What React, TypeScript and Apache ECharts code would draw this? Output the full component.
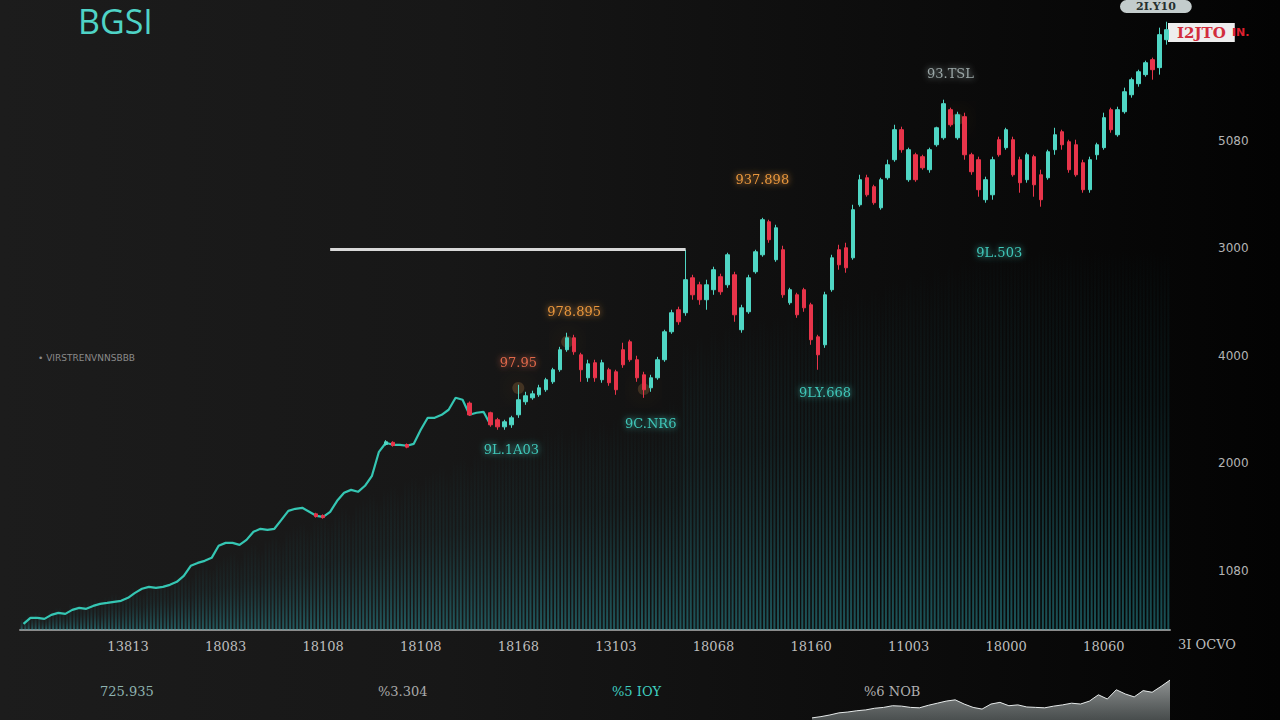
import React, { useEffect, useRef } from "react";
import * as echarts from "echarts";

const N = 165;
const categories = Array.from({ length: N }, (_, i) => `D${i + 1}`);
const xTickLabels = ["13813", "18083", "18108", "18108", "18168", "13103", "18068", "18160", "11003", "18000", "18060"];
const xTickFirst = 15;
const xTickStep = 14;
const yTickValues = [1000, 2000, 3000, 4000, 5000];
const yTickLabels = ["1080", "2000", "4000", "3000", "5080"];

// closing path of the early (dense) part, index 0..67
const trendLine = [
  507, 563, 563, 553, 591, 609, 600, 637, 656, 647,
  674, 693, 702, 712, 721, 749, 795, 833, 851, 842,
  851, 870, 898, 953, 1047, 1074, 1093, 1121, 1233, 1260,
  1260, 1242, 1288, 1363, 1391, 1381, 1391, 1474, 1558, 1577,
  1586, 1549, 1512, 1502, 1549, 1651, 1726, 1753, 1735, 1791,
  1884, 2107, 2191, 2172, 2172, 2163, 2181, 2312, 2423, 2423,
  2451, 2498, 2609, 2591, 2451, 2470, 2479, 2358,
];

// [index, open, close, low, high]
const leftCandles = [
  [42, 1530, 1505, 1495, 1540],
  [43, 1515, 1495, 1485, 1525],
  [52, 2175, 2200, 2165, 2215],
  [53, 2195, 2165, 2155, 2205],
  [55, 2175, 2150, 2140, 2185],
  [64, 2560, 2450, 2440, 2575],
  [67, 2470, 2358, 2340, 2480],
];

const candleStart = 68;
// [open, close, low, high]
const candles = [
  [2405, 2339, 2312, 2423], [2339, 2386, 2312, 2405], [2358, 2423, 2330, 2442], [2451, 2591, 2423, 2730],
  [2572, 2628, 2544, 2665], [2609, 2646, 2591, 2675], [2637, 2702, 2618, 2730], [2684, 2777, 2665, 2795],
  [2758, 2870, 2739, 2888], [2870, 3056, 2851, 3083], [3056, 3167, 3037, 3214], [3167, 3037, 3009, 3195],
  [3009, 2870, 2758, 3028], [2795, 2925, 2758, 2963], [2935, 2795, 2758, 2963], [2777, 2935, 2749, 2963],
  [2870, 2749, 2721, 2888], [2851, 2684, 2637, 2870], [3056, 2916, 2888, 3121], [3130, 2963, 2944, 3149],
  [2963, 2795, 2758, 3000], [2823, 2684, 2609, 2851], [2702, 2795, 2665, 2823], [2795, 2963, 2777, 2990],
  [2963, 3223, 2944, 3242], [3223, 3400, 3204, 3428], [3428, 3316, 3288, 3456], [3400, 3707, 3372, 3986],
  [3725, 3567, 3521, 3753], [3660, 3521, 3474, 3688], [3521, 3660, 3428, 3707], [3614, 3800, 3567, 3828],
  [3735, 3595, 3567, 3763], [3660, 3939, 3632, 3958], [3753, 3381, 3316, 3781], [3242, 3446, 3214, 3474],
  [3409, 3725, 3390, 3753], [3781, 3967, 3763, 3986], [3939, 4265, 3921, 4283], [4246, 4079, 4051, 4265],
  [3893, 4190, 3874, 4218], [3986, 3567, 3539, 4023], [3493, 3614, 3474, 3632], [3567, 3381, 3353, 3586],
  [3614, 3446, 3409, 3632], [3474, 3149, 3102, 3493], [3176, 3009, 2870, 3195], [3102, 3567, 3074, 3595],
  [3614, 3911, 3595, 3939], [3986, 3846, 3800, 4032], [4004, 3818, 3772, 4051], [3911, 4358, 3893, 4404],
  [4404, 4637, 4386, 4683], [4655, 4497, 4479, 4683], [4572, 4423, 4404, 4590], [4376, 4637, 4358, 4655],
  [4655, 4776, 4637, 4823], [4823, 5102, 4804, 5148], [5102, 4916, 4888, 5130], [4637, 4916, 4618, 4935],
  [4869, 4637, 4618, 4888], [4851, 4748, 4730, 4869], [4730, 4916, 4702, 4935], [4962, 5120, 4944, 5130],
  [5027, 5344, 5009, 5381], [5288, 5148, 5130, 5307], [5027, 5241, 5009, 5269], [5223, 4869, 4823, 5260],
  [4869, 4711, 4683, 4888], [4823, 4544, 4479, 4851], [4451, 4637, 4423, 4665], [4497, 4823, 4451, 4851],
  [5009, 4869, 4851, 5037], [4935, 5102, 4916, 5120], [5009, 4683, 4665, 5037], [4823, 4609, 4516, 4851],
  [4637, 4869, 4609, 4888], [4851, 4590, 4479, 4869], [4683, 4451, 4386, 4730], [4655, 4897, 4637, 4916],
  [4916, 5055, 4869, 5120], [5083, 4962, 4916, 5102], [4990, 4730, 4702, 5009], [4962, 4683, 4665, 5009],
  [4795, 4544, 4516, 4823], [4544, 4823, 4516, 4851], [4869, 4962, 4823, 4981], [4935, 5214, 4916, 5260],
  [5288, 5102, 5074, 5307], [5055, 5288, 5037, 5316], [5269, 5455, 5251, 5493], [5427, 5567, 5400, 5586],
  [5530, 5641, 5502, 5660], [5614, 5725, 5595, 5744], [5753, 5660, 5567, 5772], [5679, 5986, 5614, 6051],
  [5939, 6032, 5893, 6106],
];

// background stripe heights, one per category
const stripes = [
  560, 600, 620, 580, 640, 660, 630, 700, 680, 720,
  740, 700, 760, 790, 770, 820, 850, 800, 870, 900,
  920, 880, 960, 1000, 950, 1040, 1080, 1020, 1100, 1140,
  1180, 1120, 1220, 1260, 1200, 1300, 1340, 1280, 1380, 1420,
  1450, 1400, 1480, 1520, 1460, 1560, 1600, 1540, 1640, 1680,
  1720, 1660, 1760, 1800, 1740, 1840, 1880, 1820, 1900, 1940,
  1980, 1920, 2020, 2060, 2000, 2100, 2140, 2080, 2160, 2200,
  2240, 2180, 2260, 2300, 2220, 2320, 2280, 2340, 2260, 2360,
  2300, 2380, 2320, 2400, 2340, 2420, 2360, 2440, 2400, 2460,
  2480, 2420, 2540, 2600, 2560,
  3150, 3080, 3200, 3120, 3250, 3180, 3300, 3220, 3260, 3340, 3280, 3360, 3300, 3380, 3320,
  3400, 3340, 3440, 3380, 3480, 3420, 3520, 3460, 3560, 3500, 3600, 3540, 3640, 3580, 3680,
  3720, 3660, 3760, 3700, 3800, 3740, 3840, 3780, 3880, 3820, 3900, 3860, 3920, 3880, 3950,
  3980, 3940, 3990, 3960, 3980, 3950, 3990, 3970, 3980, 3940, 3990, 3960, 3980, 3950, 3990,
  3970, 3980, 3960, 3990, 3950, 3980, 3970, 3990, 3960, 3980,
];

// bottom mini profile
const volumeProfile = [
  5, 8, 12, 17, 19, 22, 24, 28, 30, 34,
  33, 30, 29, 35, 40, 45, 48, 38, 30, 26,
  38, 42, 34, 36, 31, 30, 29, 33, 36, 40,
  38, 45, 60, 50, 72, 62, 55, 70, 66, 80, 95,
];
const volumeCategories = volumeProfile.map((_, i) => `V${i + 1}`);

const levelLine = { from: 44, to: 95, value: 3986 };

const annotations = [
  { text: "937.898", i: 106, v: 4637, tone: "orange" },
  { text: "978.895", i: 79, v: 3409, tone: "orange" },
  { text: "97.95", i: 71, v: 2935, tone: "red" },
  { text: "9L.1A03", i: 70, v: 2126, tone: "cyan" },
  { text: "9C.NR6", i: 90, v: 2368, tone: "cyan" },
  { text: "9LY.668", i: 115, v: 2656, tone: "cyan" },
  { text: "9L.503", i: 140, v: 3960, tone: "cyan" },
  { text: "93.TSL", i: 133, v: 5623, tone: "grey" },
];

const glowPoints = [
  [71, 2700],
  [78, 3130],
  [89, 2690],
  [134, 5200],
];

const toneColor: Record<string, string> = {
  orange: "#e8963c",
  red: "#e0684a",
  cyan: "#3fc6b8",
  grey: "#9aa6a6",
};

export default function App() {
  const ref = useRef<HTMLDivElement>(null);

  useEffect(() => {
    if (!ref.current) return;
    const chart = echarts.init(ref.current, undefined, { renderer: "svg" });

    const candleData: any[] = categories.map(() => "-");
    leftCandles.forEach(([i, o, c, l, h]) => {
      candleData[i] = [o, c, l, h];
    });
    candles.forEach((d, k) => {
      candleData[candleStart + k] = d;
    });
    const lineData: any[] = categories.map((_, i) => (i < trendLine.length ? trendLine[i] : "-"));

    const stripeColor = new echarts.graphic.LinearGradient(0, 0, 0, 1, [
      { offset: 0, color: "rgba(30,120,130,0)" },
      { offset: 0.4, color: "rgba(30,110,120,0.16)" },
      { offset: 1, color: "rgba(45,160,170,0.5)" },
    ]);

    const serif = "DejaVu Serif";

    chart.setOption({
      animation: false,
      backgroundColor: "transparent",
      grid: [
        { left: 20, right: 110, top: 17, bottom: 90 },
        { left: 812, right: 110, top: 678, bottom: 0 },
      ],
      xAxis: [
        {
          type: "category",
          data: categories,
          gridIndex: 0,
          boundaryGap: true,
          axisLine: { lineStyle: { color: "#8a8a8a", width: 2 } },
          axisTick: { show: false },
          axisLabel: {
            interval: (index: number) => index >= xTickFirst && (index - xTickFirst) % xTickStep === 0,
            formatter: (_v: string, index: number) => xTickLabels[(index - xTickFirst) / xTickStep] ?? "",
            color: "#bdbdbd",
            fontFamily: serif,
            fontSize: 13,
            margin: 10,
          },
          splitLine: { show: false },
        },
        {
          type: "category",
          data: volumeCategories,
          gridIndex: 1,
          boundaryGap: false,
          show: false,
        },
      ],
      yAxis: [
        {
          type: "value",
          gridIndex: 0,
          position: "right",
          min: 450,
          max: 6150,
          axisLine: { show: false },
          axisTick: { show: false },
          splitLine: { show: false },
          axisLabel: {
            customValues: yTickValues,
            formatter: (v: number) => {
              const k = yTickValues.indexOf(v);
              return k >= 0 ? yTickLabels[k] : "";
            },
            color: "#b4b4b4",
            fontFamily: "DejaVu Sans",
            fontSize: 12,
            margin: 48,
          },
        },
        { type: "value", gridIndex: 1, min: 0, max: 100, show: false },
      ],
      series: [
        {
          type: "bar",
          data: stripes,
          barWidth: 2,
          barGap: "80%",
          itemStyle: { color: stripeColor },
          z: 1,
          silent: true,
        },
        {
          type: "bar",
          data: stripes,
          barWidth: 2,
          itemStyle: { color: stripeColor },
          z: 1,
          silent: true,
        },
        {
          type: "line",
          data: lineData,
          symbol: "none",
          lineStyle: { color: "#35c6b3", width: 2.2 },
          z: 3,
        },
        {
          type: "scatter",
          data: glowPoints,
          symbolSize: 12,
          itemStyle: {
            color: "rgba(255,175,90,0.22)",
            shadowBlur: 22,
            shadowColor: "rgba(255,140,40,1)",
          },
          z: 2,
          silent: true,
        },
        {
          type: "candlestick",
          data: candleData,
          barWidth: 4,
          itemStyle: {
            color: "#4fd6c4",
            color0: "#e8344a",
            borderColor: "#4fd6c4",
            borderColor0: "#e8344a",
            borderWidth: 1,
          },
          z: 4,
          markLine: {
            silent: true,
            symbol: ["none", "none"],
            label: { show: false },
            lineStyle: { color: "#d8d8d8", width: 3, type: "solid" },
            data: [
              [
                { coord: [categories[levelLine.from], levelLine.value] },
                { coord: [categories[levelLine.to], levelLine.value] },
              ],
            ],
          },
          markPoint: {
            silent: true,
            symbol: "circle",
            symbolSize: 1,
            itemStyle: { color: "transparent" },
            data: annotations.map((a) => ({
              coord: [categories[a.i], a.v],
              label: {
                show: true,
                position: "inside",
                formatter: a.text,
                color: toneColor[a.tone],
                fontFamily: serif,
                fontSize: 13,
                textShadowColor: toneColor[a.tone],
                textShadowBlur: 6,
              },
            })),
          },
        },
        {
          type: "line",
          xAxisIndex: 1,
          yAxisIndex: 1,
          data: volumeProfile,
          symbol: "none",
          lineStyle: { color: "#e6eaea", width: 1 },
          areaStyle: {
            color: new echarts.graphic.LinearGradient(0, 0, 0, 1, [
              { offset: 0, color: "rgba(225,230,230,0.9)" },
              { offset: 1, color: "rgba(140,150,150,0.7)" },
            ]),
          },
          silent: true,
        },
      ],
      graphic: [
        {
          type: "text",
          left: 78,
          top: 4,
          style: { text: "BGSI", fill: "#4fd3c6", font: '34px "Open Sans"' },
        },
        {
          type: "text",
          left: 1120,
          top: 0,
          style: {
            text: "2I.Y10",
            fill: "#26302f",
            font: `bold 11px "${serif}"`,
            backgroundColor: "#c3cccc",
            borderRadius: 7,
            padding: [1, 16],
          },
        },
        {
          type: "text",
          left: 1168,
          top: 23,
          style: {
            text: "I2JTO",
            fill: "#d22d3d",
            font: `bold 15px "${serif}"`,
            backgroundColor: "#eeeeee",
            padding: [2, 9],
          },
        },
        {
          type: "text",
          left: 1232,
          top: 27,
          style: { text: "IN.", fill: "#e02030", font: "bold 11px DejaVu Sans" },
        },
        {
          type: "text",
          left: 38,
          top: 353,
          style: { text: "• VIRSTRENVNNSBBB", fill: "#8a8a8a", font: "9px DejaVu Sans" },
        },
        {
          type: "text",
          left: 1178,
          top: 638,
          style: { text: "3I OCVO", fill: "#bdbdbd", font: `13px "${serif}"` },
        },
        {
          type: "text",
          left: 100,
          top: 685,
          style: { text: "725.935", fill: "#8fb3b0", font: `13px "${serif}"` },
        },
        {
          type: "text",
          left: 378,
          top: 685,
          style: { text: "%3.304", fill: "#a9a9a9", font: `13px "${serif}"` },
        },
        {
          type: "text",
          left: 612,
          top: 685,
          style: { text: "%5 IOY", fill: "#3fcfc0", font: `13px "${serif}"` },
        },
        {
          type: "text",
          left: 864,
          top: 685,
          style: { text: "%6 NOB", fill: "#b0b0b0", font: `13px "${serif}"` },
        },
      ],
    });

    return () => chart.dispose();
  }, []);

  return (
    <div
      style={{
        position: "fixed",
        left: 0,
        top: 0,
        width: 1280,
        height: 720,
        background:
          "linear-gradient(90deg, #1c1c1c 0%, #171717 35%, #0e0e0e 65%, #030303 100%)",
      }}
    >
      <div ref={ref} style={{ width: 1280, height: 720 }} />
    </div>
  );
}
